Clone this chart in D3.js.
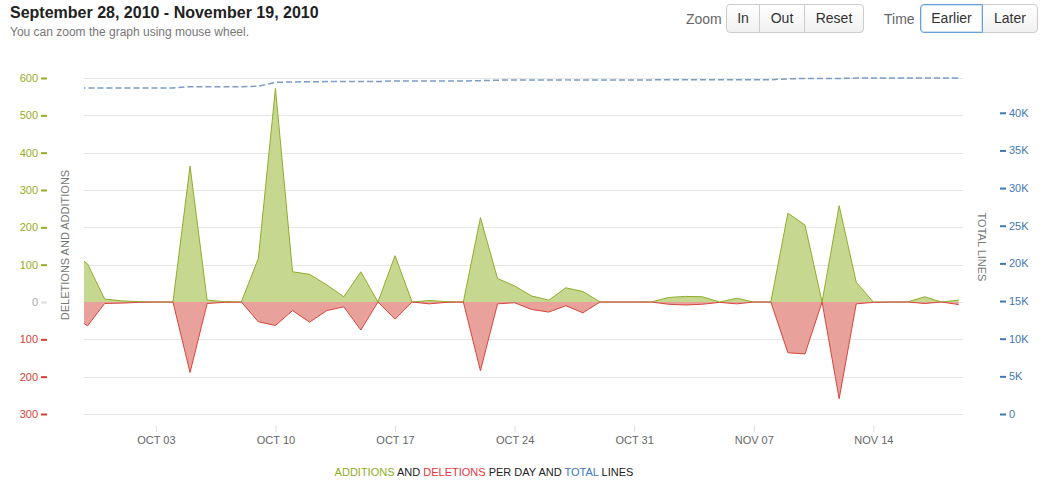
<!DOCTYPE html>
<html>
<head>
<meta charset="utf-8">
<script src="https://cdn.jsdelivr.net/npm/d3@7"></script>
<style>
  body { margin: 0; background: #fff; font-family: "Liberation Sans", Arial, sans-serif; }
  #wrap { position: relative; width: 1047px; height: 480px; overflow: hidden; }
  #title { position: absolute; left: 10px; top: 4px; font-size: 16px; font-weight: bold; color: #222; }
  #sub { position: absolute; left: 10px; top: 25px; font-size: 12px; color: #777; }
  .lbl { position: absolute; top: 11px; font-size: 14px; color: #666; }
  .btn { position: absolute; top: 4px; height: 29px; box-sizing: border-box; border: 1px solid #ccc;
    background: linear-gradient(#ffffff, #f1f1f1); font-size: 14px; color: #333; text-align: center; line-height: 27px; }
  .btn.focus { border-color: #6d9fd8; background: #fff; box-shadow: inset 0 0 0 1px #cfe0f4; }
  svg { position: absolute; left: 0; top: 0; }
  .grid line { stroke: #e6e6e6; }
  .axis path { display: none; }
  .axis text { font-family: "Liberation Sans", Arial, sans-serif; font-size: 11px; }
</style>
</head>
<body>
<div id="wrap">
  <div id="title">September 28, 2010 - November 19, 2010</div>
  <div id="sub">You can zoom the graph using mouse wheel.</div>
  <div class="lbl" style="left:686px">Zoom</div>
  <div class="btn" style="left:726px;width:34px;border-radius:4px 0 0 4px">In</div>
  <div class="btn" style="left:759px;width:46px;border-radius:0">Out</div>
  <div class="btn" style="left:804px;width:60px;border-radius:0 4px 4px 0">Reset</div>
  <div class="lbl" style="left:884px">Time</div>
  <div class="btn" style="left:982px;width:56px;border-radius:0 4px 4px 0">Later</div>
  <div class="btn focus" style="left:920px;width:63px;border-radius:4px 0 0 4px">Earlier</div>
</div>
<script>
// one value per day, Sep 28 .. Nov 19 2010
var firstDay = new Date(2010, 8, 28);
var additions = [136, 102, 8, 3, 1, 0, 0, 364, 5, 1, 0, 117, 572, 81, 74, 46, 14, 81, 0, 124, 0, 4, 1, 0,
  226, 63, 43, 16, 5, 38, 28, 0, 0, 0, 0, 12, 15, 14, 0, 10, 0, 0, 238, 206, 0, 258, 53, 0, 0, 0, 14, 0, 5];
var deletions = [34, 64, 4, 3, 1, 0, 0, 189, 4, 1, 0, 53, 63, 23, 54, 23, 13, 75, 0, 46, 0, 5, 1, 0,
  184, 5, 2, 20, 27, 10, 29, 0, 0, 0, 0, 6, 8, 6, 1, 5, 0, 0, 136, 139, 0, 259, 5, 1, 0, 0, 4, 0, 7];
var totals = [43250, 43288, 43292, 43292, 43292, 43292, 43292, 43467, 43468, 43468, 43468, 43532, 44041,
  44099, 44119, 44142, 44143, 44149, 44149, 44227, 44227, 44226, 44226, 44226, 44268, 44326, 44367,
  44363, 44341, 44369, 44368, 44368, 44368, 44368, 44368, 44374, 44381, 44389, 44388, 44393, 44393,
  44393, 44495, 44562, 44562, 44561, 44609, 44608, 44608, 44608, 44618, 44618, 44616];
var leftTicks = [-300, -200, -100, 0, 100, 200, 300, 400, 500, 600];
var rightTicks = [0, 5000, 10000, 15000, 20000, 25000, 30000, 35000, 40000];

var days = additions.map(function(d, i) { return d3.timeDay.offset(firstDay, i); });

//plot area
var plotLeft = 84, plotRight = 963, plotTop = 78, plotBottom = 414;

var svg = d3.select('#wrap').append('svg')
  .attr('width', 1047)
  .attr('height', 480);

//Scales
var x = d3.scaleTime()
  .domain([new Date(2010, 8, 28, 19), new Date(2010, 10, 19, 6)])
  .range([plotLeft, plotRight]);

var y = d3.scaleLinear()
  .domain([-300, 600])
  .range([plotBottom, plotTop]);

var y1 = d3.scaleLinear()
  .domain([0, d3.max(totals)])
  .range([plotBottom, plotTop]);

svg.append('clipPath').attr('id', 'clip')
  .append('rect')
  .attr('x', plotLeft).attr('y', 0)
  .attr('width', plotRight - plotLeft).attr('height', 480);

//gridlines
svg.append('g').attr('class', 'grid')
  .selectAll('line')
  .data(leftTicks)
  .enter().append('line')
  .attr('x1', plotLeft).attr('x2', plotRight)
  .attr('y1', function(d) { return Math.round(y(d)) + 0.5; })
  .attr('y2', function(d) { return Math.round(y(d)) + 0.5; });

var plot = svg.append('g').attr('clip-path', 'url(#clip)');

var addArea = d3.area()
  .x(function(d, i) { return x(days[i]); })
  .y0(y(0))
  .y1(function(d) { return y(d); });
var addLine = d3.line()
  .x(function(d, i) { return x(days[i]); })
  .y(function(d) { return y(d); });
var delArea = d3.area()
  .x(function(d, i) { return x(days[i]); })
  .y0(y(0))
  .y1(function(d) { return y(-d); });
var delLine = d3.line()
  .x(function(d, i) { return x(days[i]); })
  .y(function(d) { return y(-d); });

plot.append('path').datum(additions)
  .attr('d', addArea).attr('fill', '#c6d88f');
plot.append('path').datum(additions)
  .attr('d', addLine).attr('fill', 'none').attr('stroke', '#8fad2a').attr('stroke-width', 1);
plot.append('path').datum(deletions)
  .attr('d', delArea).attr('fill', '#e8a19b');
plot.append('path').datum(deletions)
  .attr('d', delLine).attr('fill', 'none').attr('stroke', '#d5473d').attr('stroke-width', 1);

//total lines
plot.append('path').datum(totals)
  .attr('d', d3.line()
    .x(function(d, i) { return x(days[i]); })
    .y(function(d) { return y1(d); }))
  .attr('fill', 'none')
  .attr('stroke', '#7b9cc6')
  .attr('stroke-width', 1.5)
  .attr('stroke-dasharray', '6,3');

//left axis
var leftColor = function(d) { return d > 0 ? '#9aab22' : (d < 0 ? '#d6412f' : '#aaa'); };
var ga = svg.append('g')
  .attr('class', 'axis')
  .attr('transform', 'translate(47,0)')
  .call(d3.axisLeft(y).tickValues(leftTicks).tickSize(6).tickPadding(3)
    .tickFormat(function(d) { return Math.abs(d); }));
ga.selectAll('.tick line').attr('stroke', function(d) { return d == 0 ? '#ddd' : leftColor(d); }).attr('stroke-width', 2);
ga.selectAll('.tick text').attr('fill', leftColor);

//right axis
var gb = svg.append('g')
  .attr('class', 'axis')
  .attr('transform', 'translate(1000,0)')
  .call(d3.axisRight(y1).tickValues(rightTicks).tickSize(6).tickPadding(3)
    .tickFormat(function(d) { return d == 0 ? '0' : (d / 1000) + 'K'; }));
gb.selectAll('.tick line').attr('stroke', '#3f78b4').attr('stroke-width', 2);
gb.selectAll('.tick text').attr('fill', '#3f78b4');

//x axis
var gx = svg.append('g')
  .attr('class', 'axis')
  .attr('transform', 'translate(0,426)')
  .call(d3.axisBottom(x).ticks(d3.timeWeek.every(1)).tickSize(6).tickPadding(4)
    .tickFormat(function(d) { return d3.timeFormat('%b %d')(d).toUpperCase(); }));
gx.selectAll('.tick line').attr('stroke', '#ddd');
gx.selectAll('.tick text').attr('fill', '#666');

//axis labels
svg.append('text')
  .attr('transform', 'translate(69,245) rotate(-90)')
  .attr('text-anchor', 'middle')
  .attr('font-size', '11px')
  .attr('fill', '#777')
  .text('DELETIONS AND ADDITIONS');

svg.append('text')
  .attr('transform', 'translate(978,247) rotate(90)')
  .attr('text-anchor', 'middle')
  .attr('font-size', '11px')
  .attr('fill', '#777')
  .text('TOTAL LINES');

//legend
var legendData = [
  { Text: 'ADDITIONS', Color: '#8fae1b' },
  { Text: ' AND ', Color: '#222' },
  { Text: 'DELETIONS', Color: '#e0383d' },
  { Text: ' PER DAY AND ', Color: '#222' },
  { Text: 'TOTAL', Color: '#3c78c0' },
  { Text: ' LINES', Color: '#222' }
];
var legend = svg.append('text')
  .attr('x', 484)
  .attr('y', 476)
  .attr('text-anchor', 'middle')
  .attr('font-size', '11px')
  .attr('xml:space', 'preserve');
legend.selectAll('tspan')
  .data(legendData)
  .enter().append('tspan')
  .attr('fill', function(d) { return d.Color; })
  .text(function(d) { return d.Text; });
</script>
</body>
</html>
